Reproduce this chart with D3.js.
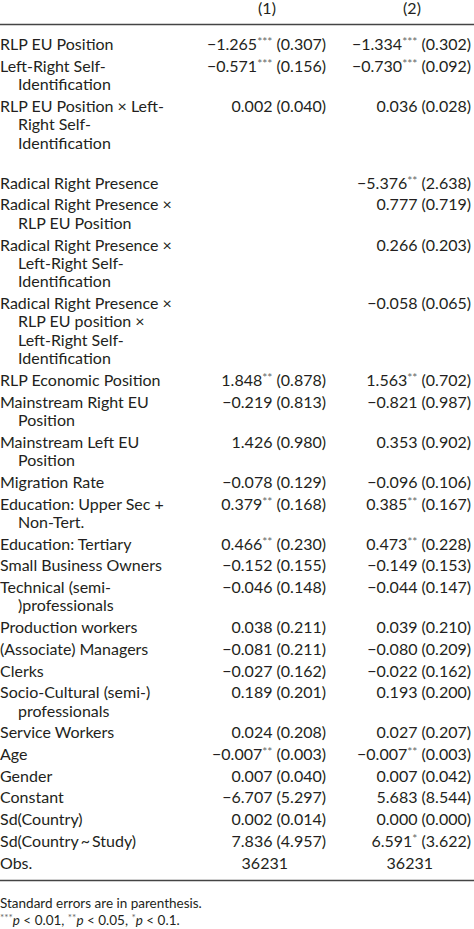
<!DOCTYPE html>
<html><head><meta charset="utf-8">
<script src="https://cdn.jsdelivr.net/npm/d3@7"></script>
<style>body{margin:0;background:#fff}text{font-family:Lato,"Open Sans",sans-serif;fill:#231f20}</style>
</head><body><div id="chart"></div>
<script>
const labels = [
  ["RLP EU Position"],
  ["Left-Right Self-", "Identification"],
  ["RLP EU Position \u00d7 Left-", "Right Self-", "Identification"],
  ["", "Radical Right Presence"],
  ["Radical Right Presence \u00d7", "RLP EU Position"],
  ["Radical Right Presence \u00d7", "Left-Right Self-", "Identification"],
  ["Radical Right Presence \u00d7", "RLP EU position \u00d7", "Left-Right Self-", "Identification"],
  ["RLP Economic Position"],
  ["Mainstream Right EU", "Position"],
  ["Mainstream Left EU", "Position"],
  ["Migration Rate"],
  ["Education: Upper Sec +", "Non-Tert."],
  ["Education: Tertiary"],
  ["Small Business Owners"],
  ["Technical (semi-", ")professionals"],
  ["Production workers"],
  ["(Associate) Managers"],
  ["Clerks"],
  ["Socio-Cultural (semi-)", "professionals"],
  ["Service Workers"],
  ["Age"],
  ["Gender"],
  ["Constant"],
  ["Sd(Country)"],
  ["Sd(Country\u2009~\u2009Study)"],
  ["Obs."]
];
// [coef, stars, se]
const model1 = [
  ["\u22121.265","***","0.307"],["\u22120.571","***","0.156"],["0.002","","0.040"],
  null,null,null,null,
  ["1.848","**","0.878"],["\u22120.219","","0.813"],["1.426","","0.980"],
  ["\u22120.078","","0.129"],["0.379","**","0.168"],["0.466","**","0.230"],
  ["\u22120.152","","0.155"],["\u22120.046","","0.148"],["0.038","","0.211"],
  ["\u22120.081","","0.211"],["\u22120.027","","0.162"],["0.189","","0.201"],
  ["0.024","","0.208"],["\u22120.007","**","0.003"],["0.007","","0.040"],
  ["\u22126.707","","5.297"],["0.002","","0.014"],["7.836","","4.957"],
  ["36231","",null]
];
const model2 = [
  ["\u22121.334","***","0.302"],["\u22120.730","***","0.092"],["0.036","","0.028"],
  ["\u22125.376","**","2.638"],["0.777","","0.719"],["0.266","","0.203"],["\u22120.058","","0.065"],
  ["1.563","**","0.702"],["\u22120.821","","0.987"],["0.353","","0.902"],
  ["\u22120.096","","0.106"],["0.385","**","0.167"],["0.473","**","0.228"],
  ["\u22120.149","","0.153"],["\u22120.044","","0.147"],["0.039","","0.210"],
  ["\u22120.080","","0.209"],["\u22120.022","","0.162"],["0.193","","0.200"],
  ["0.027","","0.207"],["\u22120.007","**","0.003"],["0.007","","0.042"],
  ["5.683","","8.544"],["0.000","","0.000"],["6.591","*","3.622"],
  ["36231","",null]
];
const columns = ["(1)", "(2)"];
const notes = ["Standard errors are in parenthesis.", "***p < 0.01, **p < 0.05, *p < 0.1."];

const w = 474, h = 929;
const lh = 18.4, gap = 3.3, fs = 16;
const svg = d3.select('#chart').append('svg').attr('width', w).attr('height', h);

// row start offsets from cumulative line counts
let acc = 0;
const rowY = labels.map(l => { const y = acc; acc += l.length * lh + gap; return y; });
const y = d3.scaleLinear().domain([0, acc]).range([50, 50 + acc]);
const colX = d3.scaleOrdinal().domain([0, 1]).range([326, 471]);

svg.selectAll('text.head').data(columns).enter().append('text')
  .attr('x', (d, i) => colX(i) - 59).attr('y', 14).attr('text-anchor', 'middle')
  .attr('font-size', fs).text(d => d);

svg.append('line').attr('x1', 0).attr('x2', w).attr('y1', 24.5).attr('y2', 24.5)
  .attr('stroke', '#444').attr('stroke-width', 1.3);

const rows = svg.selectAll('g.row').data(labels).enter().append('g')
  .attr('transform', (d, i) => `translate(0,${y(rowY[i])})`);

rows.each(function(l, i) {
  const g = d3.select(this);
  const first = l.findIndex(s => s !== "");
  l.forEach((line, k) => {
    if (!line) return;
    g.append('text').attr('x', k === first ? 0 : 18).attr('y', k * lh).attr('font-size', fs).text(line);
  });
  const vline = first * lh;
  [model1[i], model2[i]].forEach((v, c) => {
    if (!v) return;
    const t = g.append('text').attr('x', colX(c) - (v[2] === null ? 38 : 0)).attr('y', vline)
      .attr('text-anchor', 'end').attr('font-size', fs);
    t.append('tspan').text(v[0]);
    if (v[1]) t.append('tspan').attr('font-size', 12).attr('dy', -4).attr('fill', '#666').text(v[1]);
    if (v[2] !== null) t.append('tspan').attr('dy', v[1] ? 4 : 0).text(" (" + v[2] + ")");
  });
});

svg.append('line').attr('x1', 0).attr('x2', w).attr('y1', 880.5).attr('y2', 880.5)
  .attr('stroke', '#444').attr('stroke-width', 1.3);

const n = svg.selectAll('text.note').data(notes).enter().append('text')
  .attr('x', 0).attr('y', (d, i) => 908 + i * 17).attr('font-size', 13.5);
n.each(function(d, i) {
  const t = d3.select(this);
  if (i === 0) { t.text(d); return; }
  [["***", " < 0.01, "], ["**", " < 0.05, "], ["*", " < 0.1."]].forEach(p => {
    t.append('tspan').attr('font-size', 10).attr('dy', -4).attr('fill', '#666').text(p[0]);
    t.append('tspan').attr('dy', 4).attr('font-style', 'italic').text("p");
    t.append('tspan').text(p[1]);
  });
});
</script></body></html>
